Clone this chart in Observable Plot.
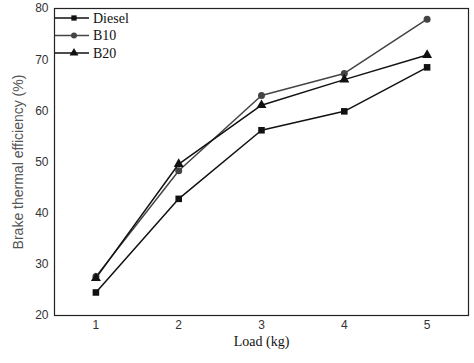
<!DOCTYPE html>
<html>
<head>
<meta charset="utf-8">
<script src="https://cdn.jsdelivr.net/npm/d3@7"></script>
<script src="https://cdn.jsdelivr.net/npm/@observablehq/plot@0.6"></script>
<style>
  html, body { margin: 0; padding: 0; background: #fff; }
  #chart { position: relative; width: 474px; height: 363px; }
</style>
</head>
<body>
<div id="chart"></div>
<script>
const loads = [1, 2, 3, 4, 5];
const diesel = [24.5, 42.8, 56.2, 59.9, 68.5];
const b10 = [27.6, 48.3, 63.0, 67.3, 77.9];
const b20 = [27.3, 49.6, 61.1, 66.1, 70.9];
const seriesNames = ["Diesel", "B10", "B20"];
const seriesValues = [diesel, b10, b20];
const seriesColors = ["#111", "#444", "#111"];
const seriesSymbols = ["square", "circle", "triangle"];
const yTicks = [20, 30, 40, 50, 60, 70, 80];

const data = [];
seriesNames.forEach((name, i) => {
  loads.forEach((x, j) => data.push({series: name, load: x, value: seriesValues[i][j]}));
});

const marks = [];
seriesNames.forEach((name, i) => {
  const d = data.filter(r => r.series === name);
  marks.push(Plot.line(d, {x: "load", y: "value", stroke: seriesColors[i], strokeWidth: 1.5}));
  marks.push(Plot.dot(d, {x: "load", y: "value", symbol: seriesSymbols[i], fill: seriesColors[i], stroke: "none", r: seriesSymbols[i] === "circle" ? 3.5 : 3.7}));
});

const plot = Plot.plot({
  width: 474,
  height: 363,
  marginLeft: 54,
  marginRight: 6,
  marginTop: 8,
  marginBottom: 48,
  style: {fontFamily: "Liberation Sans, Arial, sans-serif", fontSize: "12px", color: "#333", background: "#fff"},
  x: {domain: [0.5, 5.5]},
  y: {domain: [20, 80]},
  marks: [
    Plot.axisX({ticks: loads, tickSize: 0, tickPadding: 5, label: null, tickFormat: d => String(d), fill: "#333"}),
    Plot.axisY({ticks: yTicks, tickSize: 0, tickPadding: 6, label: null, fill: "#333"}),
    Plot.text(["Load (kg)"], {frameAnchor: "bottom", dy: 30, fontFamily: "Liberation Serif, Times New Roman, serif", fontSize: 14, fill: "#111"}),
    Plot.text(["Brake thermal efficiency (%)"], {frameAnchor: "left", textAnchor: "middle", rotate: -90, dx: -36, fontFamily: "Liberation Sans, Arial, sans-serif", fontSize: 14, fill: "#555"}),
    ...marks,
    Plot.frame({stroke: "#222", strokeWidth: 1.2})
  ]
});

// Legend inside the frame, top-left
const svg = d3.select(plot);
const leg = svg.append("g").attr("transform", "translate(55, 18)");
seriesNames.forEach((name, i) => {
  const g = leg.append("g").attr("transform", `translate(0, ${i * 17.5})`);
  g.append("line").attr("x1", 0).attr("x2", 34).attr("y1", 0).attr("y2", 0)
    .attr("stroke", seriesColors[i]).attr("stroke-width", 1.5);
  const sym = {square: d3.symbolSquare, circle: d3.symbolCircle, triangle: d3.symbolTriangle}[seriesSymbols[i]];
  g.append("path").attr("transform", "translate(19,0)")
    .attr("d", d3.symbol(sym, seriesSymbols[i] === "triangle" ? 34 : 28)())
    .attr("fill", seriesColors[i]);
  g.append("text").attr("x", 38).attr("y", 0).attr("dy", "0.35em")
    .attr("text-anchor", "start")
    .attr("font-family", "Liberation Serif, Times New Roman, serif")
    .attr("font-size", 14).attr("fill", "#111").text(name);
});

document.getElementById("chart").appendChild(plot);
</script>
</body>
</html>
